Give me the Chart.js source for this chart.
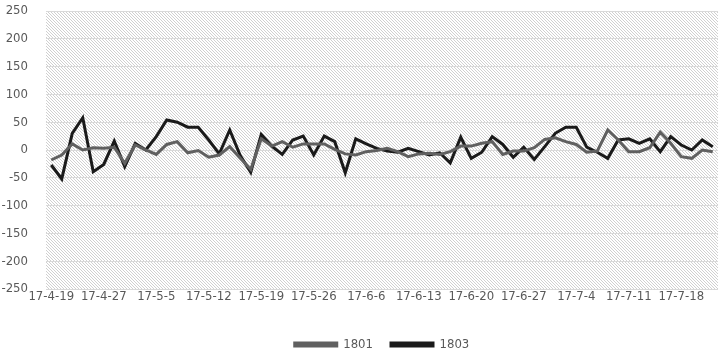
<!DOCTYPE html>
<html>
<head>
<meta charset="utf-8">
<script src="https://cdn.jsdelivr.net/npm/chart.js@4.4.1/dist/chart.umd.min.js"></script>
<style>
  html, body { margin: 0; padding: 0; background: #ffffff; }
  #wrap { width: 721px; height: 357px; position: relative; }
</style>
</head>
<body>
<div id="wrap"><canvas id="c" width="721" height="357"></canvas></div>
<script>
const categories = [
  "17-4-19","17-4-20","17-4-21","17-4-24","17-4-25","17-4-27","17-4-28","17-5-2","17-5-3","17-5-4",
  "17-5-5","17-5-8","17-5-9","17-5-10","17-5-11","17-5-12","17-5-15","17-5-16","17-5-17","17-5-18",
  "17-5-19","17-5-22","17-5-23","17-5-24","17-5-25","17-5-26","17-5-31","17-6-1","17-6-2","17-6-5",
  "17-6-6","17-6-7","17-6-8","17-6-9","17-6-12","17-6-13","17-6-14","17-6-15","17-6-16","17-6-19",
  "17-6-20","17-6-21","17-6-22","17-6-23","17-6-26","17-6-27","17-6-28","17-6-29","17-6-30","17-7-3",
  "17-7-4","17-7-5","17-7-6","17-7-7","17-7-10","17-7-11","17-7-12","17-7-13","17-7-14","17-7-17",
  "17-7-18","17-7-19","17-7-20","17-7-21"
];
const series1801 = [
  -18,-9,11,0,4,3,5,-24,9,0,
  -8,10,15,-5,-1,-13,-9,6,-15,-35,
  20,7,15,5,11,11,11,1,-7,-9,
  -3,-1,3,-3,-12,-7,-6,-8,-3,7,
  7,12,15,-8,-2,-2,4,19,22,15,
  10,-4,-2,36,18,-3,-3,4,32,12,
  -12,-15,0,-3
];
const series1803 = [
  -27,-52,30,58,-39,-26,16,-30,12,0,
  24,54,50,41,41,18,-7,36,-10,-40,
  28,7,-8,18,25,-9,25,15,-41,20,
  11,3,-2,-4,3,-3,-9,-5,-23,23,
  -15,-4,24,10,-13,5,-17,6,30,41,
  41,5,-4,-15,18,20,12,20,-3,24,
  9,0,18,6
];
const yTicks = { min: -250, max: 250, step: 50 };
const labelEvery = 5;

const FONT = "'DejaVu Sans Condensed', 'Liberation Sans', sans-serif";
const FSIZE = 13;

function makeHatch() {
  const t = document.createElement('canvas');
  t.width = 3; t.height = 3;
  const g = t.getContext('2d');
  g.fillStyle = '#ffffff';
  g.fillRect(0, 0, 3, 3);
  g.fillStyle = '#d0d0d0';
  g.fillRect(0, 0, 1, 1);
  g.fillRect(1, 1, 1, 1);
  g.fillRect(2, 2, 1, 1);
  return g.createPattern(t, 'repeat');
}

const hatchPlugin = {
  id: 'hatch',
  beforeDraw(chart) {
    const { ctx, chartArea: a } = chart;
    ctx.save();
    ctx.fillStyle = makeHatch();
    ctx.fillRect(a.left, a.top, a.right - a.left, a.bottom - a.top);
    ctx.restore();
  }
};

const legendFitPlugin = {
  id: 'legendFit',
  beforeInit(chart) {
    const lg = chart.legend;
    if (!lg) return;
    const orig = lg.fit;
    lg.fit = function() { orig.call(this); this.height = 37; };
  }
};

new Chart(document.getElementById('c'), {
  type: 'line',
  data: {
    labels: categories,
    datasets: [
      { label: '1801', data: series1801, borderColor: '#606060', backgroundColor: '#606060',
        borderWidth: 3, pointRadius: 0, tension: 0, borderJoinStyle: 'miter' },
      { label: '1803', data: series1803, borderColor: '#1a1a1a', backgroundColor: '#1a1a1a',
        borderWidth: 3, pointRadius: 0, tension: 0, borderJoinStyle: 'miter' }
    ]
  },
  options: {
    responsive: false,
    animation: false,
    layout: { padding: { left: 0, right: 3, top: 11, bottom: 0 } },
    plugins: {
      tooltip: { enabled: false },
      legend: {
        position: 'bottom',
        fullSize: false,
        labels: {
          boxWidth: 42, boxHeight: 3, padding: 18,
          color: '#595959',
          font: { family: FONT, size: FSIZE }
        }
      }
    },
    scales: {
      x: {
        offset: true,
        grid: { display: false, drawTicks: false },
        border: { display: false },
        ticks: {
          autoSkip: false, maxRotation: 0, minRotation: 0, padding: 0,
          color: '#595959', font: { family: FONT, size: FSIZE },
          callback: function(v, i) { return i % labelEvery === 0 ? categories[i] : null; }
        },
        afterFit(scale) { scale.height = 31; }
      },
      y: {
        min: yTicks.min, max: yTicks.max,
        grid: { color: '#d9d9d9', lineWidth: 1, drawTicks: false },
        border: { display: false },
        ticks: {
          stepSize: yTicks.step, padding: 18,
          color: '#595959', font: { family: FONT, size: FSIZE }
        },
        afterFit(scale) { scale.width = 46; scale.paddingTop = 0; scale.paddingBottom = 0; }
      }
    }
  },
  plugins: [hatchPlugin, legendFitPlugin]
});
</script>
</body>
</html>
